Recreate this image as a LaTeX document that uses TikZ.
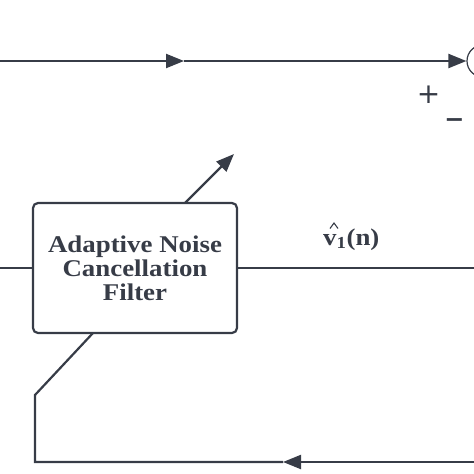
\documentclass[tikz,border=0pt]{standalone}
\usepackage{fontspec}
\setmainfont{Liberation Serif}[BoldFeatures={FakeStretch=1.12}]
\newfontfamily\signfont{DejaVu Sans}
\usetikzlibrary{arrows.meta}
\definecolor{ink}{HTML}{373C47}
\begin{document}
\begin{tikzpicture}[x=1pt,y=-1pt,
  wire/.style={draw=ink,line width=2.2pt},
  tip/.style={-{Triangle[length=18pt,width=14pt]}},
  filterbox/.style={draw=ink,line width=2.2pt,rounded corners=5pt,minimum width=204pt,minimum height=130pt,align=center,inner sep=0pt,text=ink,font=\fontsize{24}{24}\selectfont\bfseries},
  sumnode/.style={draw=ink,line width=1.2pt,circle,minimum size=32pt,inner sep=0pt},
  sign/.style={text=ink,inner sep=0pt}]
\useasboundingbox (0,0) rectangle (474,474);
% nodes
\node[filterbox] (anc) at (135,268) {Adaptive Noise\\Cancellation\\Filter};
\node[sumnode] (sum) at (483,61) {};
\node[sign,font=\signfont\fontsize{28}{28}\selectfont] (plus) at (428.5,95) {+};
\node[sign,font=\signfont\fontsize{24}{24}\selectfont\bfseries] (minus) at (454.5,123) {−};
\node[text=ink,font=\fontsize{24}{24}\selectfont\bfseries,anchor=base west,inner sep=0pt] (vlabel) at (323,245) {v\textsubscript{1}(n)};
\draw[ink,line width=1.1pt] (330,228.5) -- (334,223) -- (338,228.5);
% coordinates
\coordinate (inTop) at (0,61);
\coordinate (midTop) at (184,61);
\coordinate (inMid) at (0,268);
\coordinate (outMid) at (474,268);
\coordinate (adjTip) at (234,154);
\coordinate (adjStart) at (185,203);
\coordinate (errRight) at (474,462);
\coordinate (errMid) at (283,462);
\coordinate (errCorner) at (35,462);
\coordinate (errBend) at (35,395);
\coordinate (errEnd) at (93,333);
% connectors
\draw[wire,tip] (inTop) -- (midTop);
\draw[wire,tip] (midTop) -- (sum.west);
\draw[wire] (inMid) -- (anc.west);
\draw[wire] (anc.east) -- (outMid);
\draw[wire,tip] (adjStart) -- (adjTip);
\draw[wire,tip] (errRight) -- (errMid);
\draw[wire] (errMid) -- (errCorner) -- (errBend) -- (errEnd);
\end{tikzpicture}
\end{document}
